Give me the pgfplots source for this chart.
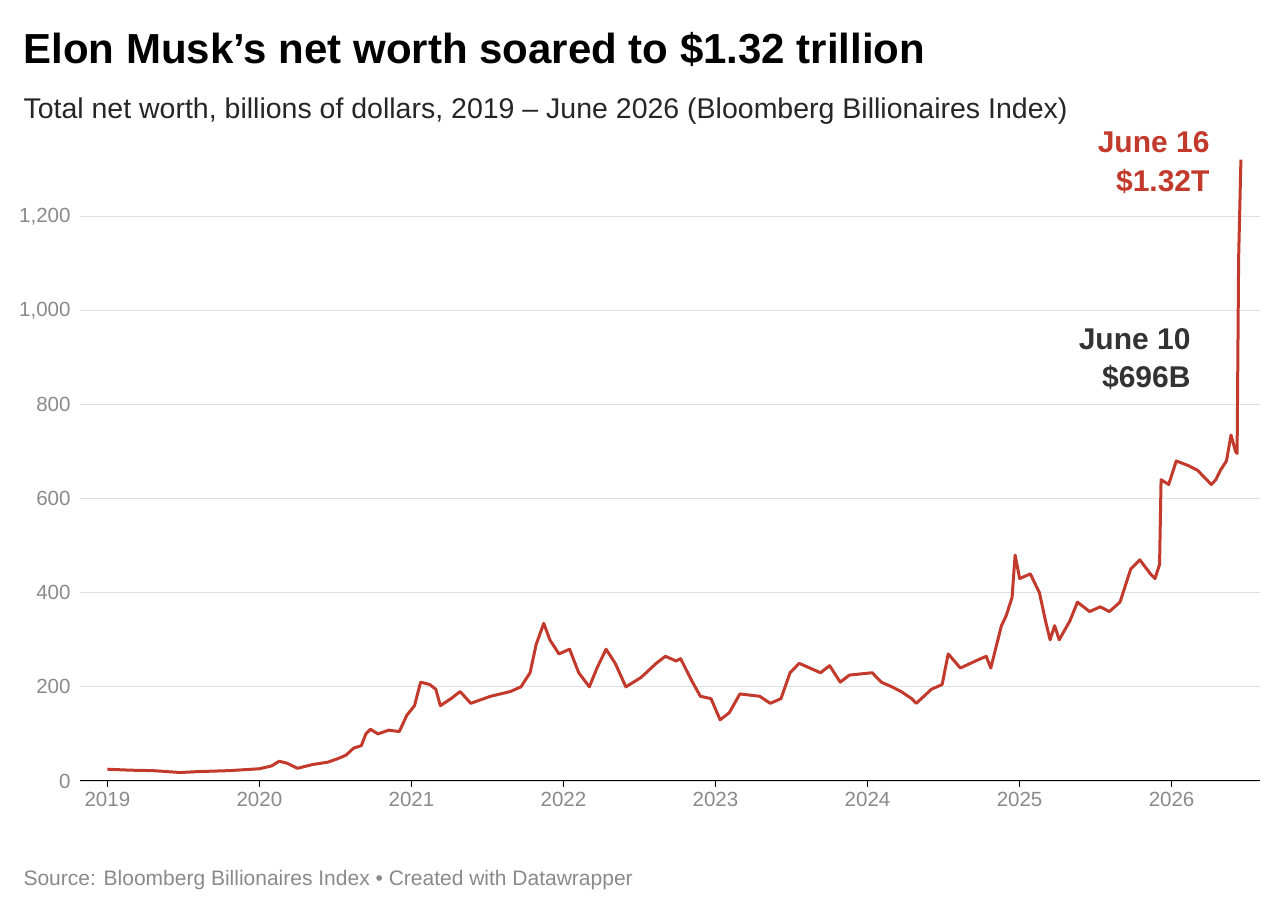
\documentclass[border=0pt]{standalone}
\usepackage{pgfplots}
\pgfplotsset{compat=1.18}
\usepackage{fontspec}
\setmainfont{Liberation Sans}
\definecolor{muskred}{HTML}{C23A2C}
\definecolor{tickgray}{HTML}{8A8A8A}
\definecolor{darktxt}{HTML}{333333}
\begin{document}
\begin{tikzpicture}
\path[use as bounding box,fill=white] (0pt,0pt) rectangle (1280pt,910pt);
\node[anchor=base west,font=\fontsize{42}{46}\selectfont\bfseries] at (20pt,846pt) {Elon Musk's net worth soared to \$1.32 trillion};
\node[anchor=base west,font=\fontsize{28.5}{32}\selectfont,text=black!85] at (20pt,791pt) {Total net worth, billions of dollars, 2019 -- June 2026 (Bloomberg Billionaires Index)};
\node[anchor=base west,font=\fontsize{21}{24}\selectfont,text=tickgray] at (20pt,24pt) {Source: Bloomberg Billionaires Index • Created with Datawrapper};
\begin{axis}[at={(80pt,129pt)},anchor=south west,scale only axis,width=1180pt,height=626pt,
  xmin=2018.82,xmax=2026.58,ymin=0,ymax=1330,
  axis x line=bottom, axis y line=left, axis line style={-},
  x axis line style={black,line width=1pt}, y axis line style={draw=none},
  xtick={2019,...,2026}, ytick={0,200,...,1200},
  /pgf/number format/assume math mode=true,
  xticklabel style={/pgf/number format/1000 sep={},font=\fontsize{20.5}{24}\selectfont,text=tickgray},
  yticklabel style={/pgf/number format/1000 sep={,},font=\fontsize{20.5}{24}\selectfont,text=tickgray,anchor=east},
  ymajorgrids, grid style={black!12,line width=0.8pt},
  xtick style={black,line width=1pt}, major tick length=6pt,
  x tick label style={yshift=-2pt},
  y tick label style={xshift=-3pt},
  ytick style={draw=none}, xtick align=outside,
  clip=false]
\addplot[muskred,line width=3pt,line join=round] coordinates {
(2019.0,25)(2019.15,23)(2019.3,22)(2019.48,18)(2019.6,20)(2019.8,22)(2020.0,26)(2020.08,32)(2020.13,42)(2020.18,38)(2020.25,27)(2020.35,35)(2020.45,40)(2020.52,48)(2020.57,55)(2020.62,70)(2020.67,75)(2020.7,100)(2020.73,110)(2020.78,100)(2020.85,108)(2020.92,105)(2020.97,140)(2021.02,160)(2021.06,210)(2021.12,205)(2021.16,195)(2021.19,160)(2021.26,175)(2021.32,190)(2021.39,165)(2021.52,180)(2021.65,190)(2021.72,200)(2021.78,230)(2021.82,290)(2021.87,335)(2021.91,300)(2021.97,270)(2022.04,280)(2022.1,230)(2022.17,200)(2022.22,240)(2022.28,280)(2022.34,250)(2022.41,200)(2022.51,220)(2022.61,250)(2022.67,265)(2022.74,255)(2022.77,260)(2022.84,215)(2022.9,180)(2022.97,175)(2023.03,130)(2023.09,145)(2023.16,185)(2023.29,180)(2023.36,165)(2023.43,175)(2023.49,230)(2023.55,250)(2023.62,240)(2023.69,230)(2023.75,245)(2023.82,210)(2023.88,225)(2024.03,230)(2024.09,210)(2024.16,200)(2024.22,190)(2024.29,175)(2024.32,165)(2024.42,195)(2024.49,205)(2024.53,270)(2024.61,240)(2024.71,255)(2024.78,265)(2024.81,240)(2024.88,330)(2024.91,350)(2024.95,390)(2024.97,480)(2025.0,430)(2025.07,440)(2025.13,400)(2025.17,340)(2025.2,300)(2025.23,330)(2025.26,300)(2025.33,340)(2025.38,380)(2025.46,360)(2025.53,370)(2025.59,360)(2025.66,380)(2025.7,420)(2025.73,450)(2025.79,470)(2025.86,440)(2025.89,430)(2025.92,460)(2025.93,640)(2025.98,630)(2026.03,680)(2026.11,670)(2026.17,660)(2026.26,630)(2026.29,640)(2026.32,660)(2026.36,680)(2026.39,735)(2026.42,700)(2026.43,696)(2026.44,1110)(2026.455,1320)};
\end{axis}
\node[anchor=base east,font=\fontsize{30}{32}\selectfont\bfseries,text=muskred] at (1213pt,757pt) {June 16};
\node[anchor=base east,font=\fontsize{30}{32}\selectfont\bfseries,text=muskred] at (1213pt,718pt) {\$1.32T};
\node[anchor=base east,font=\fontsize{30}{32}\selectfont\bfseries,text=darktxt] at (1194pt,560pt) {June 10};
\node[anchor=base east,font=\fontsize{30}{32}\selectfont\bfseries,text=darktxt] at (1194pt,522pt) {\$696B};
\end{tikzpicture}
\end{document}
